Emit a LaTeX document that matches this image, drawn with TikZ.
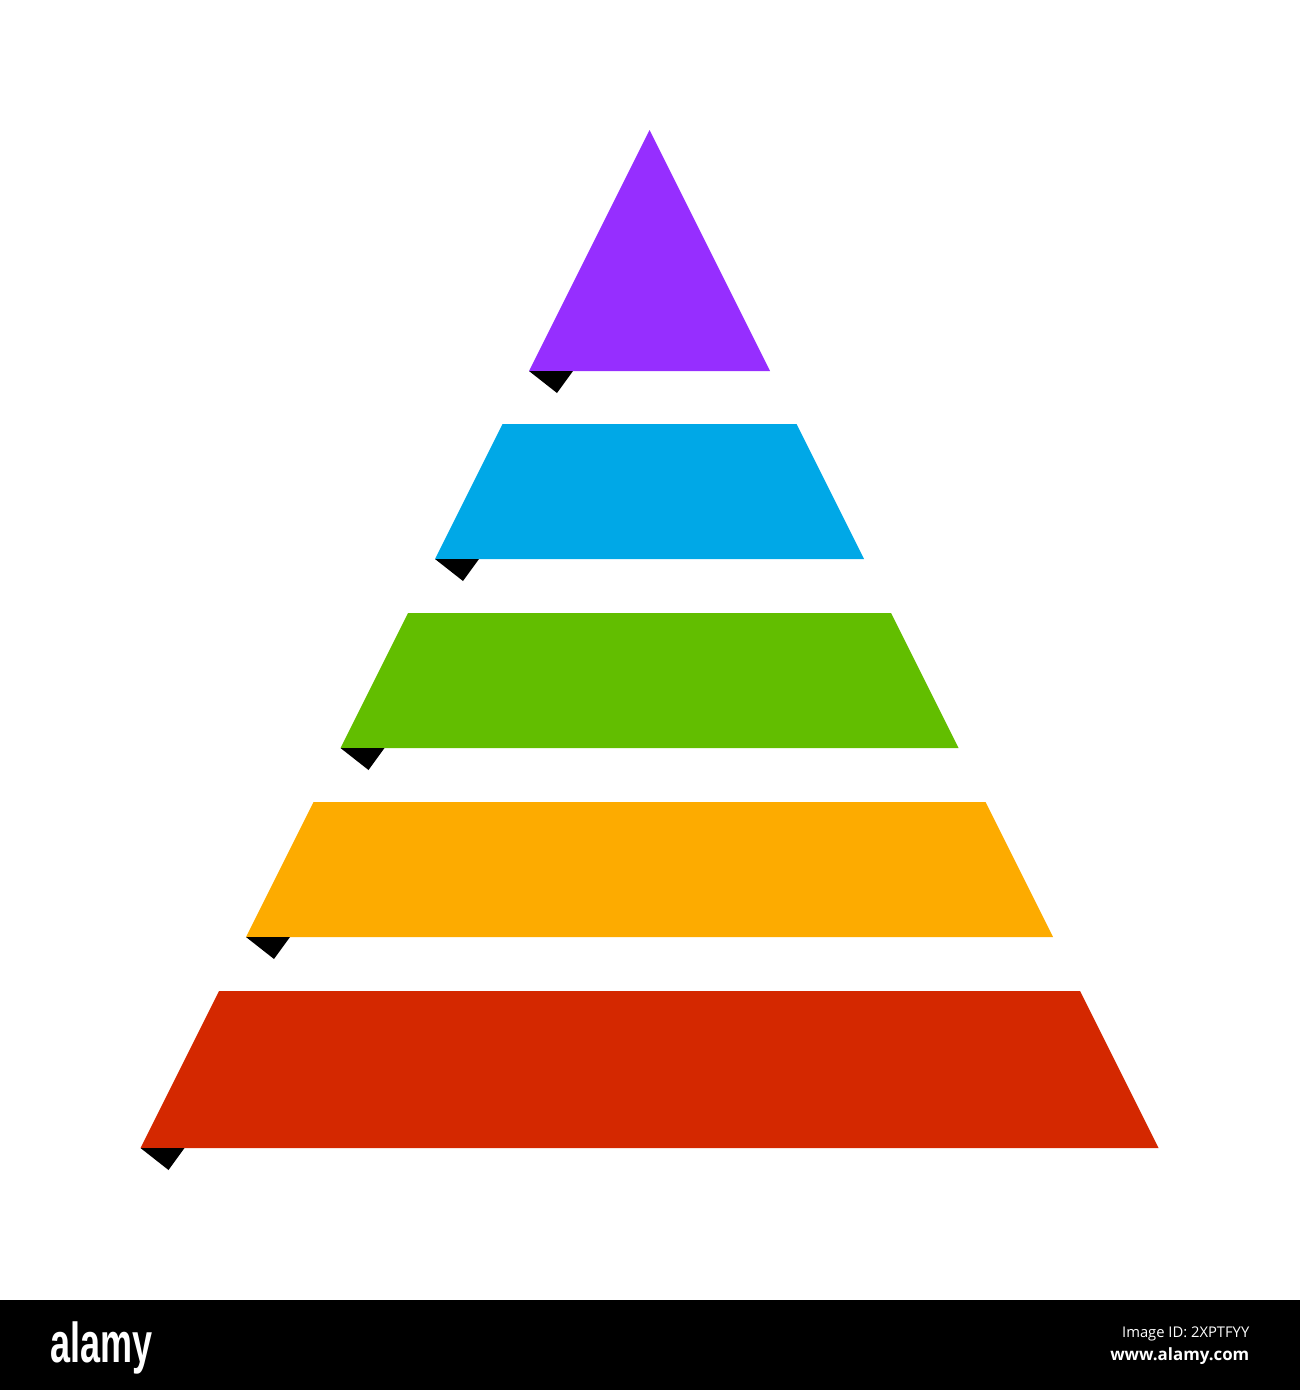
\documentclass[tikz,border=0pt]{standalone}
\usepackage{fontspec}
\newfontfamily\logofont{Liberation Sans}[FakeStretch=0.64]
\newfontfamily\idfont{Open Sans}
\definecolor{LayerPurple}{RGB}{150,46,255}
\definecolor{LayerBlue}{RGB}{0,168,231}
\definecolor{LayerGreen}{RGB}{98,190,0}
\definecolor{LayerOrange}{RGB}{253,171,0}
\definecolor{LayerRed}{RGB}{212,40,0}
\tikzset{
  pyramid style/.style={
    x=0.01cm, y=-0.01cm,
  },
  layer/.style={
    fill=#1,
    draw=none,
  },
  fold tab/.style={
    fill=black,
    draw=none,
  },
  bar text/.style={
    text=white,
    inner sep=0pt,
  },
}
% half width of the pyramid at height y (apex at 130)
\newcommand\halfw[1]{0.5*(#1-130)}

\begin{document}
\begin{tikzpicture}[pyramid style]
  \useasboundingbox (0,0) rectangle (1300,1390);
  \coordinate (apex) at (649.5,130);

  % top triangle
  \fill[layer=LayerPurple] (apex) -- (649.5-120.5,371) -- (649.5+120.5,371) -- cycle;
  \fill[fold tab] (529,371) -- (573,371) -- (557,393) -- cycle;

  % the four bands
  \foreach \top/\bot/\col in {424/559/LayerBlue,613/748/LayerGreen,
                              802/937/LayerOrange,991/1148/LayerRed}{
    \fill[layer=\col] ({649.5-\halfw{\top}},\top) -- ({649.5+\halfw{\top}},\top)
      -- ({649.5+\halfw{\bot}},\bot) -- ({649.5-\halfw{\bot}},\bot) -- cycle;
    \fill[fold tab] ({649.5-\halfw{\bot}},\bot) -- ++(44,0) -- ++(-16,22) -- cycle;
  }

  % stock bar
  \fill[black] (0,1300) rectangle (1300,1390);
  \node[bar text, anchor=base west] (logo) at (50,1362)
    {\logofont\bfseries\fontsize{16pt}{16pt}\selectfont alamy};
  \node[bar text, anchor=base east] (imgid) at (1250,1337)
    {\idfont\fontsize{4.2pt}{5pt}\selectfont Image ID: 2XPTFYY};
  \node[bar text, anchor=base east] (site) at (1250,1360)
    {\idfont\bfseries\fontsize{4.8pt}{6pt}\selectfont www.alamy.com};
\end{tikzpicture}
\end{document}
